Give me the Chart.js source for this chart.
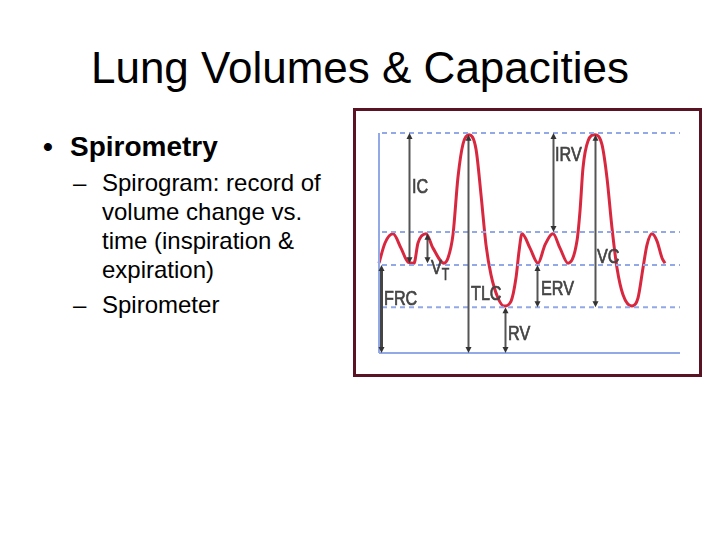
<!DOCTYPE html>
<html>
<head>
<meta charset="utf-8">
<script src="https://cdn.jsdelivr.net/npm/chart.js@4"></script>
<style>
  html, body { margin: 0; padding: 0; background: #fff; }
  body { width: 720px; height: 540px; position: relative; overflow: hidden;
         font-family: "Liberation Sans", Arial, sans-serif; color: #000; }
  .t { position: absolute; white-space: nowrap; }
  #title { left: 0; width: 720px; top: 46px; text-align: center; font-size: 44px; line-height: 44px; }
  .l1 { font-size: 28px; line-height: 28px; font-weight: bold; }
  .l2 { font-size: 24px; line-height: 24px; }
  #box { position: absolute; left: 353px; top: 108px; width: 349px; height: 269px;
         box-sizing: border-box; border: 3px solid #5a1323; background: #fff; }
  #box canvas { display: block; }
</style>
</head>
<body>
<div id="title" class="t">Lung Volumes &amp; Capacities</div>

<div class="t l1" style="left:43px; top:133px;">•</div>
<div class="t l1" style="left:70px; top:133px;">Spirometry</div>

<div class="t l2" style="left:73px; top:171px;">–</div>
<div class="t l2" style="left:102px; top:171px;">Spirogram: record of</div>
<div class="t l2" style="left:102px; top:200px;">volume change vs.</div>
<div class="t l2" style="left:102px; top:229px;">time (inspiration &amp;</div>
<div class="t l2" style="left:102px; top:258px;">expiration)</div>
<div class="t l2" style="left:73px; top:293px;">–</div>
<div class="t l2" style="left:102px; top:293px;">Spirometer</div>

<div id="box"><canvas id="spiro" width="343" height="263"></canvas></div>

<script>
// Spirogramme : temps (unités arbitraires) et volume pulmonaire (mL)
const times = [0, 6, 14, 22, 29, 35, 39, 47, 54, 65, 69, 74, 79, 84, 90, 97, 102, 107, 112, 119, 125,
  132, 137, 140, 143, 151, 159, 166, 174, 181, 189, 198, 201, 204, 209, 216, 223, 228, 233, 238,
  244, 253, 259, 264, 268, 273, 278, 283, 286];
const volumes = [2450, 3000, 3250, 2860, 2480, 2450, 3000, 3250, 2860, 2450, 2590, 3230, 4800, 5700,
  5950, 5560, 4320, 2950, 2130, 1500, 1280, 1410, 2050, 2770, 3250, 2860, 2450, 2950, 3250, 2860,
  2450, 3060, 3870, 5050, 5780, 5950, 5680, 4770, 3410, 2320, 1590, 1280, 1500, 2320, 2950, 3250,
  3050, 2590, 2450];
const timeMax = 301;

// Niveaux de référence (lignes pointillées)
const levelNames = ['TLC', 'Fin inspiration', 'FRC', 'RV'];
const levelVolumes = [6000, 3300, 2400, 1250];

// Flèches : nom, position en temps, volume de départ et d'arrivée
const arrowNames = ['IC', 'VT', 'FRC', 'TLC', 'RV', 'ERV', 'IRV', 'VC'];
const arrowTimes = [30, 48, 2, 89, 126, 158, 174, 216];
const arrowFrom = [6000, 3250, 2400, 5950, 1250, 2400, 6000, 5950];
const arrowTo = [2450, 2450, 0, 0, 0, 1250, 3300, 1250];

// Étiquettes : temps et volume de la ligne de base du texte
const labelTimes = [33, 52, 5, 92, 129, 162, 176, 218];
const labelVolumes = [4360, 2150, 1320, 1450, 360, 1570, 5230, 2450];

const blue = '#93a8e6';
const datasets = [];

// Axes (trait plein)
datasets.push({ data: [{x: 0, y: 0}, {x: 0, y: levelVolumes[0]}], borderColor: blue, borderWidth: 2 });
datasets.push({ data: [{x: 0, y: 0}, {x: timeMax, y: 0}], borderColor: blue, borderWidth: 2 });

// Lignes pointillées des niveaux
levelVolumes.forEach((v, i) => {
    datasets.push({
        label: levelNames[i],
        data: [{x: 3, y: v}, {x: timeMax, y: v}],
        borderColor: blue, borderWidth: 2, borderDash: [5, 4]
    });
});

// La courbe rouge
datasets.push({
    label: 'Volume',
    data: times.map((t, i) => ({x: t, y: volumes[i]})),
    borderColor: '#d8283f', borderWidth: 3,
    cubicInterpolationMode: 'monotone'
});

function arrowHead(ctx, x, y, dir) {
    ctx.beginPath();
    ctx.moveTo(x, y);
    ctx.lineTo(x - 3, y + dir * 6);
    ctx.lineTo(x + 3, y + dir * 6);
    ctx.closePath();
    ctx.fill();
}

const arrowPlugin = {
    id: 'arrows',
    afterDatasetsDraw(chart) {
        const ctx = chart.ctx;
        const x = chart.scales.x, y = chart.scales.y;
        ctx.save();
        arrowNames.forEach((name, i) => {
            const px = Math.round(x.getPixelForValue(arrowTimes[i])) + 0.5;
            const y1 = y.getPixelForValue(arrowFrom[i]);
            const y2 = y.getPixelForValue(arrowTo[i]);
            ctx.strokeStyle = name === 'FRC' ? '#454545' : '#555';
            ctx.fillStyle = '#333';
            ctx.lineWidth = name === 'FRC' ? 3 : 2;
            ctx.beginPath();
            ctx.moveTo(px, y1 + 3);
            ctx.lineTo(px, y2 - 3);
            ctx.stroke();
            arrowHead(ctx, px, y1, 1);
            arrowHead(ctx, px, y2, -1);
        });
        // les étiquettes
        ctx.fillStyle = '#444';
        ctx.strokeStyle = '#444';
        ctx.lineWidth = 0.7;
        ctx.textBaseline = 'alphabetic';
        arrowNames.forEach((name, i) => {
            const lx = x.getPixelForValue(labelTimes[i]);
            const ly = y.getPixelForValue(labelVolumes[i]);
            ctx.save();
            ctx.translate(lx, ly);
            ctx.scale(0.77, 1);
            ctx.font = '21px "Liberation Sans", Arial, sans-serif';
            if (name === 'VT') {
                ctx.fillText('V', 0, 0);
                ctx.strokeText('V', 0, 0);
                ctx.font = '16px "Liberation Sans", Arial, sans-serif';
                ctx.fillText('T', 14, 6);
                ctx.strokeText('T', 14, 6);
            } else {
                ctx.fillText(name, 0, 0);
                ctx.strokeText(name, 0, 0);
            }
            ctx.restore();
        });
        ctx.restore();
    }
};

const chart = new Chart(document.getElementById('spiro').getContext('2d'), {
    type: 'line',
    data: { datasets: datasets },
    options: {
        responsive: false,
        animation: false,
        events: [],
        layout: { padding: { left: 23, top: 22, right: 19, bottom: 21 } },
        elements: { point: { radius: 0 } },
        datasets: { line: { clip: false, fill: false } },
        plugins: { legend: { display: false }, tooltip: { enabled: false } },
        scales: {
            x: { type: 'linear', min: 0, max: timeMax, display: false },
            y: { min: 0, max: 6000, display: false }
        }
    },
    plugins: [arrowPlugin]
});
</script>
</body>
</html>
